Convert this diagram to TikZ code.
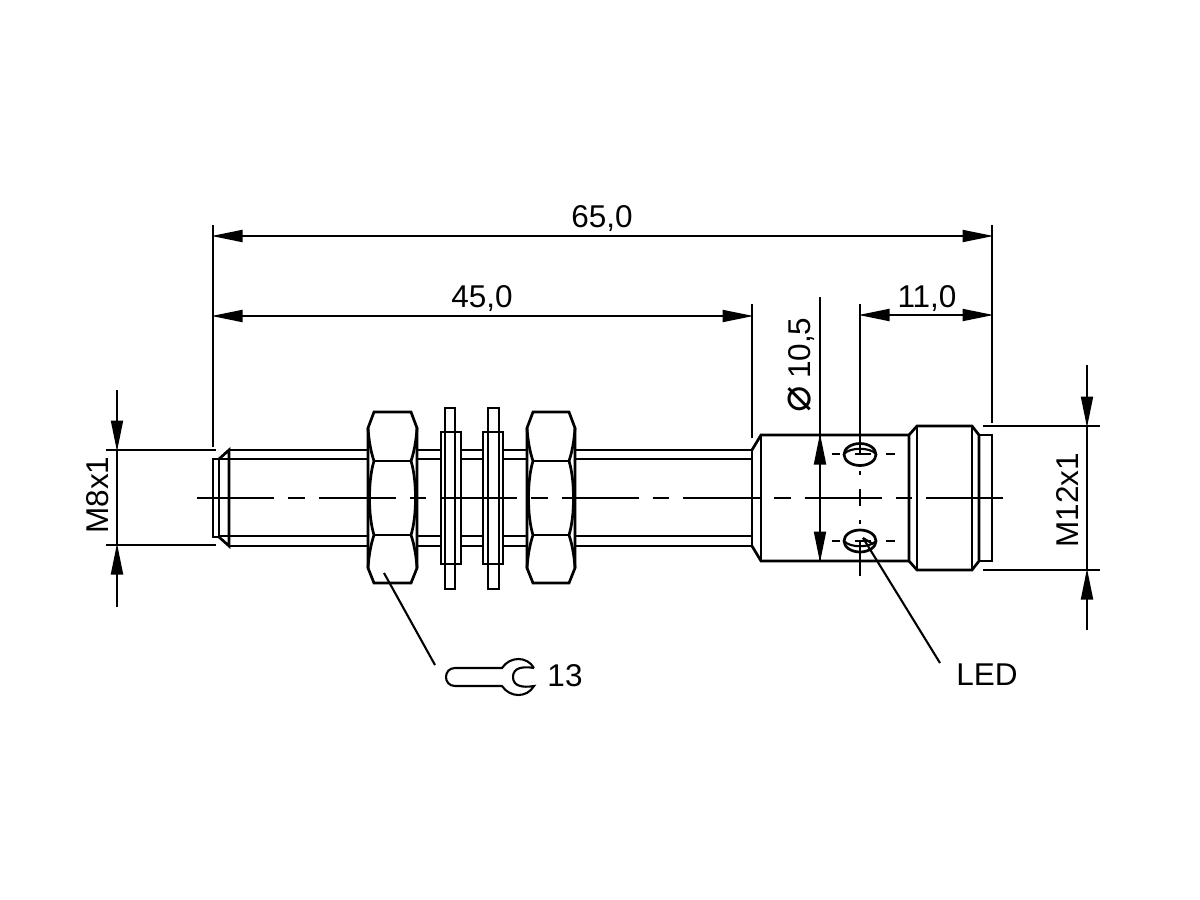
\documentclass[tikz,border=0pt]{standalone}
\usepackage{fontspec}
\setmainfont{Liberation Sans}
\newfontfamily\symfont{DejaVu Sans}
\usetikzlibrary{arrows.meta}
\begin{document}
\begin{tikzpicture}[x=1pt,y=-1pt,
        outline/.style={line width=2.7pt},
        thinline/.style={line width=2.1pt},
        centre/.style={line width=2.2pt,dash pattern=on 77pt off 14pt on 16.5pt off 14pt},
        dimtip/.style={line width=1.9pt,shorten >=-1.5pt,-{Triangle[length=31pt,width=12pt]}},
        dimboth/.style={line width=1.9pt,shorten >=-1.5pt,shorten <=-1.5pt,{Triangle[length=31pt,width=12pt]}-{Triangle[length=31pt,width=12pt]}},
        label/.style={inner sep=0pt,font=\fontsize{31.5}{36}\selectfont}]
        \useasboundingbox (0,0) rectangle (1200,900);
        % named points of the dimension lines
        \coordinate (l65) at (213,236);
        \coordinate (r65) at (992,236);
        \coordinate (l45) at (213,316);
        \coordinate (r45) at (752,316);
        \coordinate (l11) at (860,315);
        \coordinate (r11) at (992,315);
        % centre line
        \coordinate (cl) at (197,498);
        \coordinate (cr) at (1003,498);
        \draw[centre] (cl)--(cr);
        % front thread
        \draw[outline] (213,459)--(213,537)--(219,537)--(219,459)--cycle;
        \draw[outline] (219,459)--(229,450)--(229,546)--(219,537);
        \draw[outline] (229,450)--(368,450);
        \draw[thinline] (219,459)--(368,459);
        \draw[thinline] (219,536)--(368,536);
        \draw[outline] (229,546)--(368,546);
        % shaft pieces between nuts and washers
        \draw[outline] (417,450)--(441,450);
        \draw[thinline] (417,459)--(441,459);
        \draw[thinline] (417,536)--(441,536);
        \draw[outline] (417,546)--(441,546);
        \draw[outline] (461,450)--(483,450);
        \draw[thinline] (461,459)--(483,459);
        \draw[thinline] (461,536)--(483,536);
        \draw[outline] (461,546)--(483,546);
        \draw[outline] (503,450)--(527,450);
        \draw[thinline] (503,459)--(527,459);
        \draw[thinline] (503,536)--(527,536);
        \draw[outline] (503,546)--(527,546);
        \draw[outline] (575,450)--(752,450);
        \draw[thinline] (575,459)--(752,459);
        \draw[thinline] (575,536)--(752,536);
        \draw[outline] (575,546)--(752,546);
        % first nut
        \draw[outline] (368,428)--(374,412)--(411,412)--(417,428)--(417,568)--(411,583)--(374,583)--(368,568)--cycle;
        \draw[thinline] (374,461)--(411,461);
        \draw[thinline] (374,535)--(411,535);
        \draw[outline] (368,428) .. controls (369,442) and (371,452) .. (374,461);
        \draw[outline] (417,428) .. controls (416,442) and (414,452) .. (411,461);
        \draw[outline] (374,461) .. controls (368,480) and (368,516) .. (374,535);
        \draw[outline] (411,461) .. controls (417,480) and (417,516) .. (411,535);
        \draw[outline] (374,535) .. controls (371,544) and (369,554) .. (368,568);
        \draw[outline] (411,535) .. controls (414,544) and (416,554) .. (417,568);
        % second nut
        \draw[outline] (527,428)--(533,412)--(569,412)--(575,428)--(575,568)--(569,583)--(533,583)--(527,568)--cycle;
        \draw[thinline] (533,461)--(569,461);
        \draw[thinline] (533,535)--(569,535);
        \draw[outline] (527,428) .. controls (528,442) and (530,452) .. (533,461);
        \draw[outline] (575,428) .. controls (574,442) and (572,452) .. (569,461);
        \draw[outline] (533,461) .. controls (527,480) and (527,516) .. (533,535);
        \draw[outline] (569,461) .. controls (575,480) and (575,516) .. (569,535);
        \draw[outline] (533,535) .. controls (530,544) and (528,554) .. (527,568);
        \draw[outline] (569,535) .. controls (572,544) and (574,554) .. (575,568);
        % washers
        \draw[outline] (441,432) rectangle (461,564);
        \draw[outline] (445,408) rectangle (455,589);
        \draw[outline] (483,432) rectangle (503,564);
        \draw[outline] (488,408) rectangle (499,589);
        % housing
        \draw[outline] (752,450)--(761,435)--(909,435);
        \draw[outline] (752,546)--(761,561)--(909,561);
        \draw[outline] (752,450)--(752,546);
        \draw[outline] (761,435)--(761,561);
        \draw[outline] (909,435)--(917,426)--(972,426)--(979,435)--(979,561)--(972,570)--(917,570)--(909,561)--cycle;
        \draw[outline] (917,426)--(917,570);
        \draw[outline] (972,426)--(972,570);
        \draw[thinline] (979,435)--(992,435)--(992,561)--(979,561);
        % LED windows
        \draw[outline] (860,454.5) ellipse [x radius=16, y radius=11];
        \draw[outline] (860,541) ellipse [x radius=16, y radius=11];
        \draw[thinline] (844,454) .. controls (850,447) and (870,447) .. (876,454);
        \draw[thinline] (844,541) .. controls (850,548) and (870,548) .. (876,541);
        \draw[thinline] (855,454)--(871,454);
        \draw[thinline] (855,541)--(871,541);
        \draw[thinline] (832,454)--(840,454);
        \draw[thinline] (886,454)--(895,454);
        \draw[thinline] (832,541)--(840,541);
        \draw[thinline] (886,541)--(895,541);
        \draw[thinline] (860,471)--(860,475);
        \draw[thinline] (860,489)--(860,506);
        \draw[thinline] (860,520)--(860,524);
        \draw[thinline] (860,541)--(860,576);
        % extension lines
        \draw[thinline] (213,225)--(213,447);
        \draw[thinline] (992,225)--(992,423);
        \draw[thinline] (752,304)--(752,438);
        \draw[thinline] (860,304)--(860,454);
        \draw[thinline] (820,297)--(820,561);
        \draw[thinline] (106,450)--(216,450);
        \draw[thinline] (106,545)--(216,545);
        \draw[thinline] (983,426)--(1100,426);
        \draw[thinline] (983,570)--(1100,570);
        % dimension arrows
        \draw[dimboth] (l65)--(r65);
        \draw[dimboth] (l45)--(r45);
        \draw[dimboth] (l11)--(r11);
        \draw[dimtip] (820,466)--(820,435);
        \draw[dimtip] (820,531)--(820,561);
        \draw[dimtip] (117,390)--(117,450);
        \draw[thinline] (117,450)--(117,545);
        \draw[dimtip] (117,607)--(117,545);
        \draw[dimtip] (1087,365)--(1087,426);
        \draw[thinline] (1087,426)--(1087,570);
        \draw[dimtip] (1087,630)--(1087,570);
        % leaders
        \draw[thinline] (384,573)--(435,665);
        \draw[thinline] (863,538)--(940,663);
        \draw[thinline] (863,538)--(873,544);
        % wrench
        \draw[thinline] (534,668) .. controls (527,656) and (510,656) .. (502,668)--(455,668) .. controls (443,668) and (443,686) .. (455,686)--(502,686) .. controls (510,698) and (527,698) .. (534,686) .. controls (522,688) and (513,686) .. (513,677) .. controls (513,668) and (522,666) .. (534,668);
        % labels
        \node[label,anchor=base] (dimA) at (602,227) {65,0};
        \node[label,anchor=base] (dimB) at (482,307) {45,0};
        \node[label,anchor=base] (dimC) at (927,307) {11,0};
        \node[label,anchor=base,rotate=90] (dimD) at (810,365) {{\symfont\fontsize{44}{44}\selectfont ⌀}\hspace{7pt}10,5};
        \node[label,anchor=base,rotate=90] (dimE) at (108,495) {M8x1};
        \node[label,anchor=base,rotate=90] (dimF) at (1078,500) {M12x1};
        \node[label,anchor=base] (wrenchsize) at (565,686) {13};
        \node[label,anchor=base] (ledlabel) at (987,685) {LED};
\end{tikzpicture}
\end{document}
